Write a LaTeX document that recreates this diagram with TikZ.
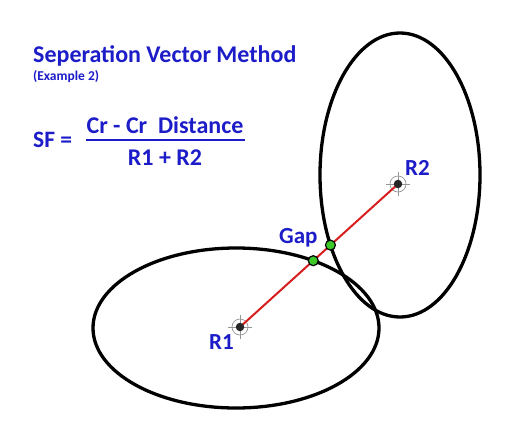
\documentclass[tikz,border=0pt]{standalone}
\usepackage{fontspec}
\setmainfont{Carlito}
\usetikzlibrary{intersections}
\definecolor{txtblue}{RGB}{28,28,200}
\definecolor{linkred}{RGB}{215,30,30}
\definecolor{dotgreen}{RGB}{60,200,40}
\definecolor{markgray}{RGB}{150,150,150}
\tikzset{
  lbl/.style={text=txtblue, font=\bfseries, inner sep=0pt, anchor=base west},
  outline/.style={draw=black, line width=3.3pt},
  link/.style={draw=linkred, line width=2pt},
  ring/.style={circle, draw=markgray, line width=0.7pt, minimum size=16pt, inner sep=0pt},
  hair/.style={draw=markgray, line width=0.7pt},
  core/.style={circle, fill=black!85, minimum size=8.5pt, inner sep=0pt},
  gapdot/.style={circle, draw=black, fill=dotgreen, line width=1.2pt, minimum size=10pt, inner sep=0pt}
}
\begin{document}
\begin{tikzpicture}[x=1pt, y=-1pt]
\useasboundingbox (0,0) rectangle (517,424);
% titles
\node[lbl, font=\bfseries\fontsize{24}{28}\selectfont] (title) at (33,62) {Seperation Vector Method};
\node[lbl, font=\bfseries\fontsize{13.5}{16}\selectfont] (ex) at (33,80) {(Example 2)};
\node[lbl, font=\bfseries\fontsize{23.5}{28}\selectfont] (sf) at (33,147) {SF =};
\node[lbl, anchor=base, font=\bfseries\fontsize{24}{28}\selectfont] (num) at (165,133) {Cr - Cr\ \ Distance};
\node[lbl, anchor=base, font=\bfseries\fontsize{24}{28}\selectfont] (den) at (165,165) {R1 + R2};
\coordinate (fl) at (86,140);
\coordinate (fr) at (245,140);
\draw[txtblue, line width=2pt] (fl) -- (fr);
% ellipses
\path[outline, name path=lower] (236,328) ellipse [x radius=143pt, y radius=80pt];
\path[outline, name path=upper] (400,175) ellipse [x radius=80pt, y radius=142pt];
% centres
\coordinate (c1) at (240,327);
\coordinate (c2) at (398,184);
\node[ring] (ring1) at (c1) {};
\node[ring] (ring2) at (c2) {};
\draw[hair] ([xshift=-12pt]c1) -- ([xshift=12pt]c1);
\draw[hair] ([yshift=-12pt]c1) -- ([yshift=12pt]c1);
\draw[hair] ([xshift=-12pt]c2) -- ([xshift=12pt]c2);
\draw[hair] ([yshift=-12pt]c2) -- ([yshift=12pt]c2);
\path[link, name path=vec] (ring1.center) -- (ring2.center);
\node[core] (r1) at (c1) {};
\node[core] (r2) at (c2) {};
\path[name intersections={of=lower and vec, by=g1}];
\path[name intersections={of=upper and vec, by=g2}];
\node[gapdot] (gap1) at (g1) {};
\node[gapdot] (gap2) at (g2) {};
% labels
\node[lbl, font=\bfseries\fontsize{23}{27}\selectfont] (l2) at (405,175) {R2};
\node[lbl, font=\bfseries\fontsize{23}{27}\selectfont] (l1) at (209,349) {R1};
\node[lbl, font=\bfseries\fontsize{23}{27}\selectfont] (lg) at (279,243) {Gap};
\end{tikzpicture}
\end{document}
